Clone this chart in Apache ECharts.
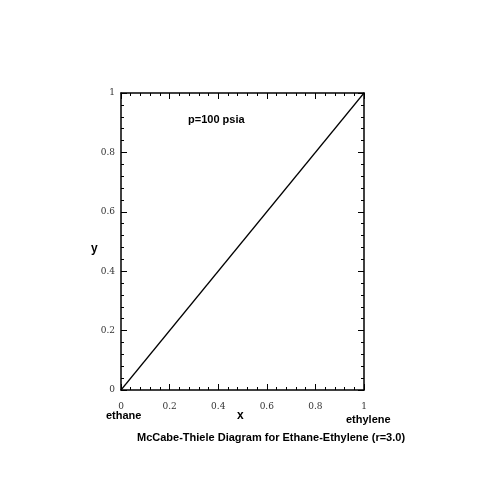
<!DOCTYPE html><html><head><script src="https://cdn.jsdelivr.net/npm/echarts@6/dist/echarts.min.js"></script></head><body style="margin:0"><div id="c" style="width:480px;height:480px"></div><script>
const xVals=[0,1];
const yVals=[0,1];
const ticks=[0,0.2,0.4,0.6,0.8,1];
const c=echarts.init(document.getElementById('c'));
const lab={fontFamily:'DejaVu Serif',fontSize:9,color:'#333',formatter:v=>String(+v.toFixed(1))};
function ax(show){return {type:'value',min:0,max:1,interval:0.2,
axisLine:{show:true,onZero:false,lineStyle:{color:'#000',width:1.5}},
axisTick:{show:true,inside:true,length:6,lineStyle:{color:'#000'}},
minorTick:{show:true,splitNumber:5,length:3,lineStyle:{color:'#000'}},
splitLine:{show:false},axisLabel:show?lab:{show:false}};}
const xa=ax(true),xb=ax(false);xa.position='bottom';xb.position='top';
const ya=ax(true),yb=ax(false);ya.position='left';yb.position='right';
ya.axisLabel=Object.assign({},lab,{margin:6});
c.setOption({animation:false,
grid:{left:121,right:116,top:93,bottom:90},
xAxis:[xa,xb],yAxis:[ya,yb],
series:[{type:'line',data:xVals.map((x,i)=>[x,yVals[i]]),symbol:'none',lineStyle:{color:'#000',width:1.2}}],
graphic:[
{type:'text',left:188,top:110,style:{text:'p=100 psia',font:'bold 11px Liberation Sans',fill:'#000'}},
{type:'text',left:91,top:238,style:{text:'y',font:'bold 12px Liberation Sans',fill:'#000'}},
{type:'text',left:237,top:405,style:{text:'x',font:'bold 12px Liberation Sans',fill:'#000'}},
{type:'text',left:106,top:406,style:{text:'ethane',font:'bold 11px Liberation Sans',fill:'#000'}},
{type:'text',left:346,top:410,style:{text:'ethylene',font:'bold 11px Liberation Sans',fill:'#000'}},
{type:'text',left:137,top:428,style:{text:'McCabe-Thiele Diagram for Ethane-Ethylene (r=3.0)',font:'bold 11px Liberation Sans',fill:'#000'}}
]});
</script></body></html>
